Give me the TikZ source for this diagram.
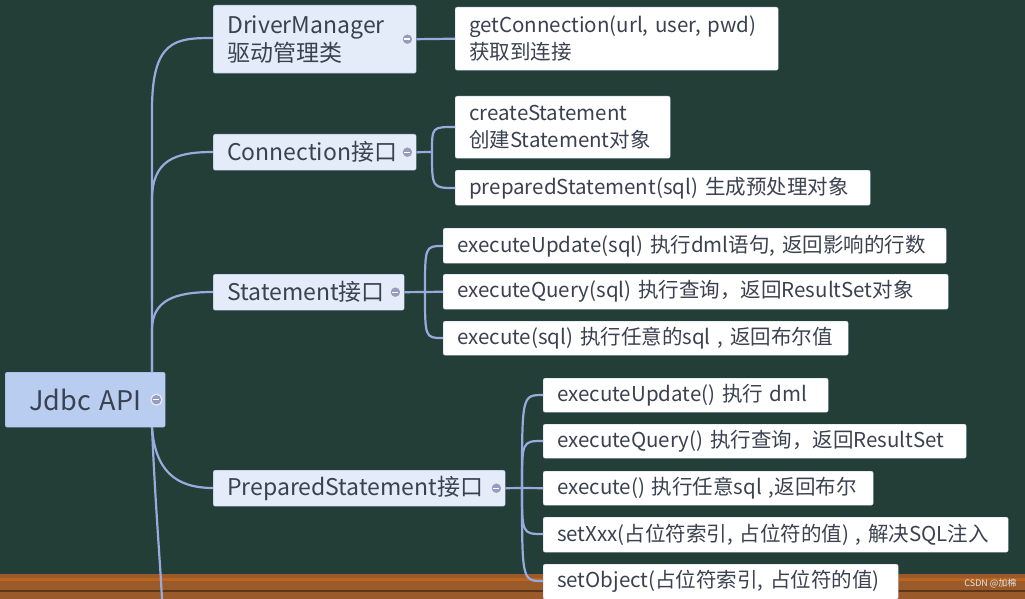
\documentclass[tikz,border=0pt]{standalone}
\usepackage{fontspec}
\setmainfont{Noto Sans CJK SC}
\definecolor{board}{HTML}{233D37}
\definecolor{wood}{HTML}{9A5A2A}
\definecolor{rootc}{HTML}{B8CDF0}
\definecolor{lvone}{HTML}{E4ECF9}
\definecolor{linec}{HTML}{9AAADD}
\definecolor{txt}{HTML}{3A4150}
\tikzset{
 box/.style={draw=linec!60, rounded corners=2pt, anchor=north west, inner xsep=14pt, inner ysep=0pt, align=left, text=txt, font=\fontsize{20.5}{27}\selectfont},
 leaf/.style={box, fill=white},
 lone/.style={box, fill=lvone, draw=linec, font=\fontsize{23}{28}\selectfont},
 br/.style={draw=linec, line width=2.2pt},
 knob/.style={circle, draw=white!85!gray, fill=linec!70!gray, line width=1.2pt, inner sep=0pt, minimum size=11pt}
}
\newcommand{\bx}[7]{\node[#1, text width=#4-28pt, minimum height=#6] (#2) at (#3,#5) {#7};}
\begin{document}
\begin{tikzpicture}[x=1pt,y=-1pt]
\fill[board] (0,0) rectangle (1025,599);
\fill[wood] (0,574) rectangle (1025,599);
\fill[wood!70!orange] (0,578) rectangle (1025,581);
\fill[wood!60!black] (0,590) rectangle (1025,592);
\useasboundingbox (0,0) rectangle (1025,599);
% trunk
\draw[br] (152,372) -- (152,110) .. controls (152,40) and (175,38) .. (213,38);
\draw[br] (152,300) -- (152,200) .. controls (152,160) and (175,152) .. (213,152);
\draw[br] (152,372) -- (152,330) .. controls (152,300) and (175,292) .. (213,292);
\draw[br] (152,427) .. controls (155,470) and (175,488) .. (213,488);
\draw[br] (152,427) .. controls (155,500) and (160,560) .. (162,599);
% level 1
\bx{lone}{dm}{213}{203pt}{5}{68pt}{DriverManager\\驱动管理类}
\bx{lone}{cn}{213}{203pt}{134}{36pt}{Connection接口}
\bx{lone}{st}{213}{191pt}{274}{36pt}{Statement接口}
\bx{lone}{ps}{213}{292pt}{470}{36pt}{PreparedStatement接口}
\node[box, fill=rootc, draw=linec, text width=160pt-28pt, minimum height=55pt, font=\fontsize{27}{30}\selectfont, inner xsep=14pt] (root) at (5,372) {\hspace*{10pt}Jdbc API};
% leaves
\bx{leaf}{gc}{455}{323pt}{7}{63pt}{getConnection(url, user, pwd)\\获取到连接}
\bx{leaf}{cs}{455}{215pt}{96}{62pt}{createStatement\\创建Statement对象}
\bx{leaf}{pst}{455}{415pt}{170}{35pt}{preparedStatement(sql) 生成预处理对象}
\bx{leaf}{eu}{443}{503pt}{228}{35pt}{executeUpdate(sql) 执行dml语句, 返回影响的行数}
\bx{leaf}{eq}{443}{505pt}{274}{35pt}{executeQuery(sql) 执行查询，返回ResultSet对象}
\bx{leaf}{ex}{443}{405pt}{321}{34pt}{execute(sql) 执行任意的sql , 返回布尔值}
\bx{leaf}{peu}{543}{285pt}{378}{34pt}{executeUpdate() 执行 dml}
\bx{leaf}{peq}{543}{423pt}{424}{34pt}{executeQuery() 执行查询，返回ResultSet}
\bx{leaf}{pex}{543}{330pt}{471}{34pt}{execute() 执行任意sql ,返回布尔}
\bx{leaf}{psx}{543}{465pt}{517}{35pt}{setXxx(占位符索引, 占位符的值) , 解决SQL注入}
\bx{leaf}{pso}{543}{355pt}{564}{35pt}{setObject(占位符索引, 占位符的值)}
% leaf connectors
\draw[br] (dm.east) -- (gc.west);
\draw[br] (cn.east) -- (432,152) .. controls (432,127) .. (455,127) (432,152) .. controls (432,188) .. (455,188);
\draw[br] (st.east) -- (425,292) .. controls (425,246) .. (443,246) (425,292) -- (eq.west) (425,292) .. controls (425,338) .. (443,338);
\draw[br] (ps.east) -- (522,488) -- (pex.west);
\draw[br] (522,488) .. controls (522,395) .. (543,395);
\draw[br] (522,488) .. controls (522,441) .. (543,441);
\draw[br] (522,488) .. controls (522,534) .. (543,534);
\draw[br] (522,488) .. controls (522,581) .. (543,581);
% knobs
\foreach \n in {root,dm,cn,st,ps} {\node[knob] at ([xshift=-9pt]\n.east) {}; \draw[white, line width=1.4pt] ([xshift=-12pt]\n.east) -- ([xshift=-6pt]\n.east);}
\node[text=white!80!gray, font=\fontsize{9}{10}\selectfont, anchor=east] (wm) at (1020,583) {CSDN @加棉};
\end{tikzpicture}
\end{document}
